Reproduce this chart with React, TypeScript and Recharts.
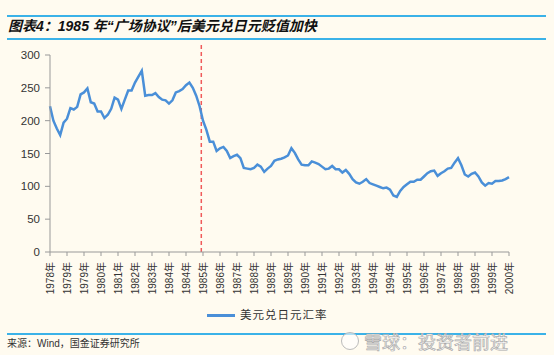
import React from 'react';
import { LineChart, Line, XAxis, YAxis, ReferenceLine } from 'recharts';

// Tick labels along the x axis (equally spaced, 5 data points between ticks)
const tickLabels = [
  '1978年', '1979年', '1979年', '1980年', '1981年', '1982年', '1983年', '1984年', '1984年', '1985年',
  '1986年', '1987年', '1988年', '1989年', '1989年', '1990年', '1991年', '1992年', '1993年', '1994年',
  '1994年', '1995年', '1996年', '1997年', '1998年', '1999年', '1999年', '2000年',
];

const POINTS_PER_TICK = 5;

// USD/JPY exchange rate (roughly bi-monthly)
const usdJpy = [
  222, 200, 188, 178, 197, 203, 219, 217, 221, 240,
  243, 249, 228, 226, 214, 214, 204, 209, 218, 235,
  232, 218, 232, 246, 246, 258, 267, 276, 238, 239,
  239, 242, 236, 232, 231, 226, 231, 243, 245, 248,
  254, 258, 250, 238, 222, 200, 186, 168, 168, 154,
  158, 160, 154, 143, 146, 148, 143, 128, 127, 126,
  128, 133, 130, 122, 127, 131, 139, 141, 142, 144,
  147, 158, 151, 141, 133, 132, 132, 138, 136, 134,
  130, 126, 127, 131, 126, 126, 121, 125, 119, 111,
  106, 104, 107, 111, 105, 103, 101, 99, 97, 98,
  95, 86, 84, 93, 99, 103, 107, 107, 110, 110,
  115, 120, 123, 124, 116, 120, 123, 127, 128, 136,
  143, 132, 118, 115, 119, 121, 115, 106, 101, 105,
  104, 108, 108, 109, 111, 114,
];

const yTicks = [0, 50, 100, 150, 200, 250, 300];
const plazaAccordPosition = 44.5; // Sept 1985, in data-point units
const seriesName = '美元兑日元汇率';
const titleText = '图表4：1985 年“广场协议”后美元兑日元贬值加快';
const sourceText = '来源：Wind，国金证券研究所';

const data = usdJpy.map((v, i) => ({ i, v }));
const xTicks = tickLabels.map((_, k) => k * POINTS_PER_TICK);

const FONT = '"Liberation Sans", Arial, "Noto Sans CJK SC", sans-serif';

const XTick = (props: any) => {
  const { x, y, payload } = props;
  const label = tickLabels[Math.round(payload.value / POINTS_PER_TICK)];
  return (
    <text
      x={x}
      y={y}
      transform={`rotate(-90 ${x} ${y})`}
      textAnchor="end"
      dominantBaseline="central"
      fontSize={10}
      fill="#333"
      fontFamily={FONT}
    >
      {label}
    </text>
  );
};

export default function App() {
  return (
    <div
      style={{
        position: 'absolute',
        left: 0,
        top: 0,
        width: 554,
        height: 355,
        background: '#FFFBF0',
        overflow: 'hidden',
        fontFamily: FONT,
      }}
    >
      <LineChart
        width={554}
        height={355}
        data={data}
        margin={{ top: 55, right: 45, bottom: 58, left: 0 }}
      >
        <XAxis
          type="number"
          dataKey="i"
          domain={[0, usdJpy.length - 1]}
          ticks={xTicks}
          interval={0}
          tick={<XTick />}
          tickSize={4}
          tickMargin={6}
          height={45}
          axisLine={{ stroke: '#999' }}
          tickLine={{ stroke: '#999' }}
        />
        <YAxis
          domain={[0, 300]}
          ticks={yTicks}
          width={50}
          tickSize={5}
          tickMargin={5}
          axisLine={{ stroke: '#999' }}
          tickLine={{ stroke: '#999' }}
          tick={{ fontSize: 11.5, fill: '#333', fontFamily: FONT }}
        />
        <ReferenceLine
          segment={[
            { x: plazaAccordPosition, y: 0 },
            { x: plazaAccordPosition, y: 318 },
          ]}
          ifOverflow="visible"
          stroke="#F05A5A"
          strokeWidth={1.5}
          strokeDasharray="4 3"
        />
        <Line
          type="linear"
          dataKey="v"
          name={seriesName}
          stroke="#4A8FD8"
          strokeWidth={2.5}
          dot={false}
          isAnimationActive={false}
        />
      </LineChart>

      {/* title block */}
      <div style={{ position: 'absolute', left: 7, top: 15, width: 539, height: 2, background: '#3BB2E8' }} />
      <div
        style={{
          position: 'absolute',
          left: 8,
          top: 18,
          fontSize: 14,
          lineHeight: '17px',
          fontWeight: 'bold',
          fontStyle: 'italic',
          color: '#111',
          whiteSpace: 'nowrap',
        }}
      >
        {titleText}
      </div>
      <div style={{ position: 'absolute', left: 7, top: 38, width: 539, height: 2, background: '#3BB2E8' }} />

      {/* legend */}
      <div style={{ position: 'absolute', left: 207, top: 314, width: 28, height: 3, background: '#4A8FD8' }} />
      <div
        style={{
          position: 'absolute',
          left: 240,
          top: 308,
          fontSize: 11.5,
          lineHeight: '14px',
          color: '#333',
          letterSpacing: 1,
          whiteSpace: 'nowrap',
        }}
      >
        {seriesName}
      </div>

      {/* footer */}
      <div style={{ position: 'absolute', left: 7, top: 333, width: 539, height: 2, background: '#3BB2E8' }} />
      <div
        style={{
          position: 'absolute',
          left: 7,
          top: 338,
          fontSize: 10,
          lineHeight: '12px',
          color: '#333',
          whiteSpace: 'nowrap',
        }}
      >
        {sourceText}
      </div>
      <div
        style={{
          position: 'absolute',
          left: 341,
          top: 332,
          width: 16,
          height: 16,
          borderRadius: '50%',
          border: '1.5px solid #bbb',
          background: 'rgba(255,255,255,0.6)',
        }}
      />
      <div
        style={{
          position: 'absolute',
          left: 364,
          top: 331,
          fontSize: 18,
          lineHeight: '20px',
          color: '#fff',
          WebkitTextStroke: '0.7px #aaa',
          whiteSpace: 'nowrap',
          fontFamily: '"Noto Sans CJK SC", sans-serif',
        }}
      >
        雪球：投资者前进
      </div>
    </div>
  );
}
